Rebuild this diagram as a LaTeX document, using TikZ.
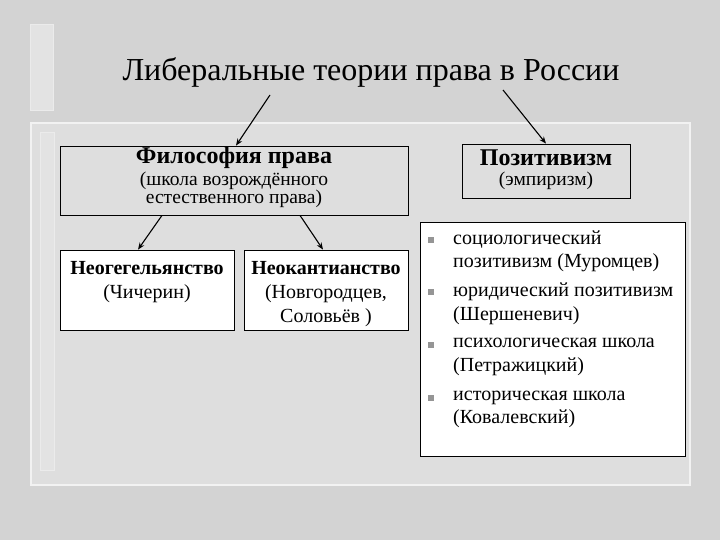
\documentclass[tikz,border=0pt]{standalone}
\usepackage{fontspec}
\setmainfont{Liberation Serif}
\usetikzlibrary{arrows.meta}
\definecolor{bgmarble}{HTML}{D3D3D3}
\definecolor{panel}{HTML}{DEDEDE}
\definecolor{bulletgray}{HTML}{959595}
\tikzset{
  box/.style={draw=black, line width=0.8pt, minimum width=#1, inner sep=0pt},
  arr/.style={line width=1.1pt, -{Stealth[length=7pt,width=5.5pt]}},
  txt/.style={inner sep=0pt, align=center},
  itm/.style={inner sep=0pt, anchor=west, align=left, font=\fontsize{20}{23.5}\selectfont},
  bul/.style={fill=bulletgray, minimum size=6pt, inner sep=0pt},
  deco/.style={fill=panel!85!white, draw=white!92!black, line width=0.8pt},
}
\begin{document}
\begin{tikzpicture}[x=1pt,y=-1pt]
\useasboundingbox (0,0) rectangle (720,540);
% background
\fill[bgmarble] (0,0) rectangle (720,540);
\fill[panel] (31,123) rectangle (690,485);
\draw[white!95!black, line width=1.2pt] (31,485) -- (31,123) -- (690,123) -- (690,485) -- cycle;
\draw[deco] (30,24) rectangle (53,110);
\draw[deco] (40,132) rectangle (54,470);

% title
\node[txt, font=\fontsize{32}{36}\selectfont] (title) at (371,72) {Либеральные теории права в России};
\coordinate (t1) at (270,95);
\coordinate (t2) at (503,90);

% boxes
\node[box=348pt, minimum height=69pt, fill=panel] (phil) at (234,180.5) {};
\node[box=168pt, minimum height=54pt, fill=panel] (pos) at (546,171) {};
\node[box=174pt, minimum height=80pt, fill=white] (neoh) at (147,290) {};
\node[box=164pt, minimum height=80pt, fill=white] (neok) at (326,290) {};
\node[box=265pt, minimum height=234pt, fill=white] (list) at (552.5,339) {};

% box texts
\node[txt, font=\fontsize{24}{26}\selectfont\bfseries] (philA) at (234,158) {Философия права};
\node[txt, font=\fontsize{19.5}{18.5}\selectfont] (philB) at (234,190) {(школа возрождённого\\естественного права)};
\node[txt, font=\fontsize{24}{26}\selectfont\bfseries] (posA) at (546,158) {Позитивизм};
\node[txt, font=\fontsize{19.5}{18.5}\selectfont] (posB) at (546,181) {(эмпиризм)};
\node[txt, font=\fontsize{20}{24}\selectfont] (neohT) at (147,282) {\textbf{Неогегельянство}\\(Чичерин)};
\node[txt, font=\fontsize{20}{24}\selectfont] (neokT) at (326,294) {\textbf{Неокантианство}\\(Новгородцев,\\Соловьёв )};

% list
\node[bul] (b1) at (431,240) {};
\node[bul] (b2) at (431,292) {};
\node[bul] (b3) at (431,345) {};
\node[bul] (b4) at (431,398) {};
\node[itm] (i1) at (453,251.5) {социологический\\позитивизм (Муромцев)};
\node[itm] (i2) at (453,304) {юридический позитивизм\\(Шершеневич)};
\node[itm] (i3) at (453,357) {психологическая школа\\(Петражицкий)};
\node[itm] (i4) at (453,409.5) {историческая школа\\(Ковалевский)};

% arrows
\draw[arr] (t1) -- (phil.north -| 236,0);
\draw[arr] (t2) -- (pos.north -| 546,0);
\draw[arr] (phil.south -| 162,0) -- (neoh.north -| 138,0);
\draw[arr] (phil.south -| 300,0) -- (neok.north -| 323,0);
\end{tikzpicture}
\end{document}
